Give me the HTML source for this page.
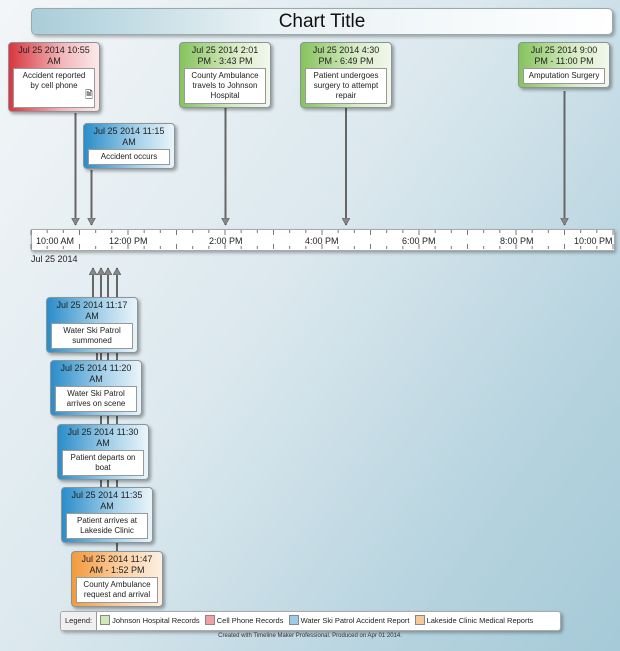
<!DOCTYPE html>
<html><head><meta charset="utf-8"><style>
body{margin:0;width:620px;height:651px;overflow:hidden;font-family:"Liberation Sans",sans-serif;}
#bg{position:absolute;left:0;top:0;width:620px;height:651px;background:linear-gradient(125deg,#f3f6f8 0%,#dbe8ee 45%,#b4d2de 80%,#a6cad8 100%);}
.title{position:absolute;left:31px;top:8px;width:580px;height:25px;border:1px solid #9aa;border-radius:5px;background:linear-gradient(90deg,#a9cdd9,#e8f1f4 40%,#fff);box-shadow:2px 2px 3px rgba(0,0,0,.3);text-align:center;font-size:19px;line-height:25px;color:#111;}
.card{position:absolute;width:90px;border:1px solid #8a9599;border-radius:4px;box-shadow:2px 2px 3px rgba(0,0,0,.35);font-size:9px;color:#222;text-align:center;}
.card .h{line-height:11px;padding:2px 2px 1px;}
.card .b{background:#fff;border:1px solid #999;margin:0 4px 3px;font-size:8px;line-height:10px;padding:2px 1px;}
.red{background:linear-gradient(90deg,#d8363e,#f2b8bb 60%,#fbe9ea);}
.green{background:linear-gradient(90deg,#86c35c,#d7ebc4 60%,#f2f8ec);}
.blue{background:linear-gradient(90deg,#2a8dc9,#a8d2ea 60%,#eaf4fa);}
.orange{background:linear-gradient(90deg,#f39a3c,#fbd4ab 60%,#fdf0e2);}
.axis{position:absolute;left:31px;top:229px;width:582px;height:20px;background:#fff;border:1px solid #aaa;box-shadow:1px 2px 3px rgba(0,0,0,.3);}
.lab{position:absolute;top:236px;font-size:9px;color:#222;}
.legend{position:absolute;left:60px;top:611px;width:499px;height:18px;background:#fff;border:1px solid #aaa;border-radius:3px;box-shadow:2px 2px 3px rgba(0,0,0,.3);font-size:7.5px;line-height:18px;color:#222;white-space:nowrap;overflow:hidden;}
.sw{display:inline-block;width:8px;height:8px;border:1px solid #888;vertical-align:-2px;margin:0 2px 0 3px;}
</style></head><body>
<div id="bg"></div>
<svg style="position:absolute;left:0;top:0" width="620" height="651">
<defs><marker id="ad" markerWidth="8" markerHeight="8" refX="4" refY="7" orient="0" markerUnits="userSpaceOnUse"><path d="M0,0 L8,0 L4,7 Z" fill="#888" stroke="#555" stroke-width=".6"/></marker>
<marker id="au" markerWidth="8" markerHeight="8" refX="4" refY="1" orient="0" markerUnits="userSpaceOnUse"><path d="M0,8 L8,8 L4,1 Z" fill="#888" stroke="#555" stroke-width=".6"/></marker></defs>
<g stroke="#666" stroke-width="2">
<line x1="75.5" y1="113" x2="75.5" y2="225" marker-end="url(#ad)"/>
<line x1="91.5" y1="170" x2="91.5" y2="225" marker-end="url(#ad)"/>
<line x1="225.5" y1="106" x2="225.5" y2="225" marker-end="url(#ad)"/>
<line x1="346" y1="106" x2="346" y2="225" marker-end="url(#ad)"/>
<line x1="564.5" y1="91" x2="564.5" y2="225" marker-end="url(#ad)"/>
<line x1="93" y1="297" x2="93" y2="268" marker-end="url(#au)"/>
<line x1="101" y1="487" x2="101" y2="268" marker-end="url(#au)"/>
<line x1="108" y1="487" x2="108" y2="268" marker-end="url(#au)"/>
<line x1="117" y1="551" x2="117" y2="268" marker-end="url(#au)"/>
<line x1="97" y1="352" x2="97" y2="360"/>
</g>
</svg>
<div class="title">Chart Title</div>
<div class="axis"></div>
<svg style="position:absolute;left:0;top:0" width="620" height="651"><g stroke="#777" stroke-width="1" id="t"></g></svg>
<script>
var g=document.getElementById('t'),s='';
for(var i=0;i<=36;i++){var x=31+i*48.5/3;if(x>613)break;var h=(i%3==0)?5:3;s+='<line x1="'+x+'" y1="230" x2="'+x+'" y2="'+(230+h)+'"/><line x1="'+x+'" y1="'+(249-h)+'" x2="'+x+'" y2="249"/>';}
g.innerHTML=s;
</script>
<div class="lab" style="left:36px">10:00 AM</div>
<div class="lab" style="left:109px">12:00 PM</div>
<div class="lab" style="left:209px">2:00 PM</div>
<div class="lab" style="left:305px">4:00 PM</div>
<div class="lab" style="left:402px">6:00 PM</div>
<div class="lab" style="left:500px">8:00 PM</div>
<div class="lab" style="left:574px">10:00 PM</div>
<div style="position:absolute;left:31px;top:254px;font-size:9px;color:#222">Jul 25 2014</div>

<div class="card red" style="left:8px;top:42px"><div class="h">Jul 25 2014 10:55<br>AM</div><div class="b" style="height:34px">Accident reported<br>by cell phone<div style="text-align:right;font-size:10px;line-height:10px">&#128462;</div></div></div>
<div class="card blue" style="left:83px;top:123px"><div class="h">Jul 25 2014 11:15<br>AM</div><div class="b">Accident occurs</div></div>
<div class="card green" style="left:179px;top:42px"><div class="h">Jul 25 2014 2:01<br>PM - 3:43 PM</div><div class="b">County Ambulance<br>travels to Johnson<br>Hospital</div></div>
<div class="card green" style="left:300px;top:42px"><div class="h">Jul 25 2014 4:30<br>PM - 6:49 PM</div><div class="b">Patient undergoes<br>surgery to attempt<br>repair</div></div>
<div class="card green" style="left:518px;top:42px"><div class="h">Jul 25 2014 9:00<br>PM - 11:00 PM</div><div class="b">Amputation Surgery</div></div>

<div class="card blue" style="left:46px;top:297px"><div class="h">Jul 25 2014 11:17<br>AM</div><div class="b">Water Ski Patrol<br>summoned</div></div>
<div class="card blue" style="left:50px;top:360px"><div class="h">Jul 25 2014 11:20<br>AM</div><div class="b">Water Ski Patrol<br>arrives on scene</div></div>
<div class="card blue" style="left:57px;top:424px"><div class="h">Jul 25 2014 11:30<br>AM</div><div class="b">Patient departs on<br>boat</div></div>
<div class="card blue" style="left:61px;top:487px"><div class="h">Jul 25 2014 11:35<br>AM</div><div class="b">Patient arrives at<br>Lakeside Clinic</div></div>
<div class="card orange" style="left:71px;top:551px"><div class="h">Jul 25 2014 11:47<br>AM - 1:52 PM</div><div class="b">County Ambulance<br>request and arrival</div></div>

<div class="legend"><span style="display:inline-block;padding:0 4px;border-right:1px solid #999;background:#f0f0f0">Legend:</span><span class="sw" style="background:#cfe8b8"></span>Johnson Hospital Records <span class="sw" style="background:#f0a0a5"></span>Cell Phone Records <span class="sw" style="background:#9ccbe8"></span>Water Ski Patrol Accident Report <span class="sw" style="background:#f8c998"></span>Lakeside Clinic Medical Reports</div>
<div style="position:absolute;left:0;width:620px;top:633px;text-align:center;font-size:6px;color:#333">Created with Timeline Maker Professional. Produced on Apr 01 2014.</div>
</body></html>
